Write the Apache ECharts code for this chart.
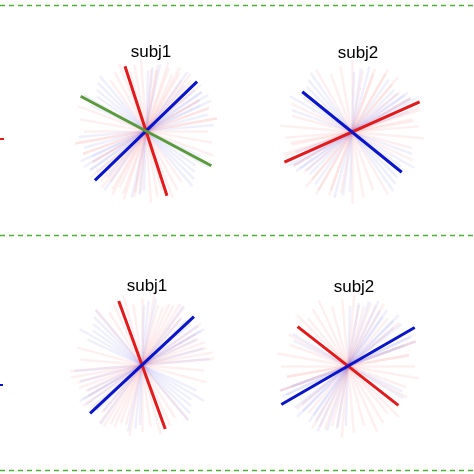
<!DOCTYPE html>
<html><head><meta charset="utf-8">
<script src="https://cdn.jsdelivr.net/npm/echarts@6/dist/echarts.min.js"></script>
<style>html,body{margin:0;padding:0;background:#fff}#c{width:474px;height:474px}</style>
</head><body><div id="c"></div>
<script>
// panel centres and titles
var panelNames = ['subj1', 'subj2', 'subj1', 'subj2'];
var centers = [[146, 131], [352, 132], [142, 365], [348, 366]];
// main lines: [angle deg (screen), half length, colour]
var mainLines = [
    [[72, 68, '#e31a1c'], [136, 71, '#0a14c8'], [28, 74, '#5a9a3a']],
    [[-24, 74, '#e31a1c'], [39, 64, '#0a14c8']],
    [[70, 68, '#e31a1c'], [137, 71, '#0a14c8']],
    [[38, 64, '#e31a1c'], [-30, 77, '#0a14c8']]
];
// faint rays (angle deg)
var faintRed = [
    [-80, -70, -62, -55, -48, -40, -30, -20, -10, 0, 10, 20, 55, 62, 68, 75, 80, 86, 95, 100, 108, 115, 120, 128, 150, 160, 170],
    [-70, -60, -50, -40, -30, -18, -12, -5, 5, 15, 25, 60, 70, 80, 90, 100, 110, 120, 130, 150, 160, 170],
    [-75, -66, -58, -50, -42, -35, -25, -15, -5, 5, 15, 50, 58, 65, 75, 82, 90, 100, 110, 118, 126, 150, 160, 170],
    [-80, -70, -60, -50, -40, -20, -10, 0, 10, 20, 28, 45, 50, 58, 66, 75, 85, 95, 105, 115, 160, 170]
];
var faintBlue = [
    [-88, -84, -78, 125, 130, 140, 145, 150, 155, 165, 175, 30, 35, 40, 45, 50, 25, -45, -35, -25],
    [-88, -82, -75, 30, 35, 45, 50, 55, 140, 145, 150, 155, 135, 125, -35, -28, -20, 20],
    [-88, -84, -78, 125, 130, 140, 145, 150, 155, 165, 175, 30, 35, 40, 45, 50, 25, -45, -30],
    [-88, -80, -72, -65, -55, -45, -38, -25, -20, 120, 125, 135, 140, 150, 155, 160, 25, 30]
];
var dashY = [5, 235, 470];

function seg(c, ang, h) {
    var a = ang * Math.PI / 180;
    return [[c[0] - h * Math.cos(a), c[1] - h * Math.sin(a)], [c[0] + h * Math.cos(a), c[1] + h * Math.sin(a)]];
}

var lineData = [];
for (var p = 0; p < 4; p++) {
    var c = centers[p];
    faintRed[p].forEach(function (a, i) {
        lineData.push({coords: seg(c, a, 62 + (i % 3) * 5), lineStyle: {color: 'rgba(240,90,90,0.09)', width: 2.5, opacity: 1}});
    });
    faintBlue[p].forEach(function (a, i) {
        lineData.push({coords: seg(c, a, 60 + (i % 4) * 4), lineStyle: {color: 'rgba(90,90,230,0.09)', width: 2.5, opacity: 1}});
    });
    mainLines[p].forEach(function (m) {
        lineData.push({coords: seg(c, m[0], m[1]), lineStyle: {color: m[2], width: 3, opacity: 1}});
    });
}
// left cropped stubs
lineData.push({coords: [[0, 139], [4, 139]], lineStyle: {color: '#e31a1c', width: 2, opacity: 1}});
lineData.push({coords: [[0, 385], [3, 385]], lineStyle: {color: '#0a14c8', width: 2, opacity: 1}});
dashY.forEach(function (y) {
    lineData.push({coords: [[0, y], [474, y]], lineStyle: {color: '#4caf3a', width: 1.4, type: [5, 4], opacity: 1}});
});

var myChart = echarts.init(document.getElementById('c'));
myChart.setOption({
    animation: false,
    title: centers.map(function (c, i) {
        return {text: panelNames[i], left: c[0] + (i % 2 ? 1 : 0), top: c[1] - 92, textAlign: 'center',
            textStyle: {fontSize: 17, fontWeight: 'normal', color: '#000', fontFamily: 'Liberation Sans'}};
    }),
    grid: {left: 0, right: 0, top: 0, bottom: 0},
    xAxis: {type: 'value', min: 0, max: 474, show: false},
    yAxis: {type: 'value', min: 0, max: 474, inverse: true, show: false},
    series: [{type: 'lines', coordinateSystem: 'cartesian2d', polyline: false, data: lineData, silent: true}]
});
</script></body></html>
